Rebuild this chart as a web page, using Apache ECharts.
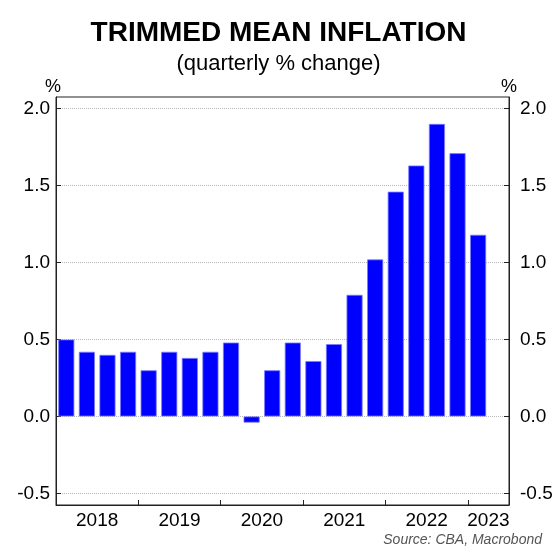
<!DOCTYPE html>
<html><head><meta charset="utf-8">
<script src="https://cdn.jsdelivr.net/npm/echarts@6/dist/echarts.min.js"></script>
<style>html,body{margin:0;padding:0;background:#fff}#c{width:557px;height:556px}</style>
</head><body><div id="c"></div>
<script>
const quarters = ['2018 Q1','2018 Q2','2018 Q3','2018 Q4','2019 Q1','2019 Q2','2019 Q3','2019 Q4',
  '2020 Q1','2020 Q2','2020 Q3','2020 Q4','2021 Q1','2021 Q2','2021 Q3','2021 Q4',
  '2022 Q1','2022 Q2','2022 Q3','2022 Q4','2023 Q1','2023 Q2'];
const trimmedMean = [0.50,0.42,0.40,0.42,0.30,0.42,0.38,0.42,0.48,-0.04,0.30,0.48,0.36,0.47,0.79,1.02,1.46,1.63,1.90,1.71,1.18,null];
const yTicks = [-0.5,0.0,0.5,1.0,1.5,2.0];
const years = ['2018','2019','2020','2021','2022','2023'];

const FONT = "'Liberation Sans', Arial, sans-serif";
// year start / centre positions derived from the quarter list
const yearStart = [], yearCentre = [];
years.forEach(y => {
  const idx = quarters.map((q,i)=>q.startsWith(y)?i:-1).filter(i=>i>=0);
  yearStart.push(idx[0]);
  yearCentre.push((idx[0] + idx[idx.length-1] + 1)/2);
});
const labelAt = {};
yearCentre.forEach((c,i)=>{labelAt[c]=years[i];});

const yMin = -0.575, yMax = 2.075;
const yAxisCommon = {
  type:'value', min:yMin, max:yMax,
  axisLine:{show:true, lineStyle:{color:'#222', width:1}},
  axisTick:{show:true, inside:true, length:5, customValues:yTicks, lineStyle:{color:'#222'}},
  axisLabel:{customValues:yTicks, fontSize:19, color:'#000', fontFamily:FONT,
    formatter:v=>v.toFixed(1)},
  name:'%', nameLocation:'end',
  nameTextStyle:{fontSize:18, color:'#000', fontFamily:FONT}
};

const chart = echarts.init(document.getElementById('c'), null, {renderer:'canvas'});
chart.setOption({
  animation:false,
  backgroundColor:'#fff',
  title:[
    {text:'TRIMMED MEAN INFLATION', left:'center', top:14,
     textStyle:{fontSize:28, fontWeight:'bold', color:'#000', fontFamily:FONT}},
    {text:'(quarterly % change)', left:'center', top:48,
     textStyle:{fontSize:22, fontWeight:'normal', color:'#000', fontFamily:FONT}},
    {text:'Source: CBA, Macrobond', right:10, top:528,
     textStyle:{fontSize:14, fontWeight:'normal', fontStyle:'italic', color:'#555', fontFamily:FONT}}
  ],
  grid:{left:56, right:48, top:97, bottom:51, show:true, borderColor:'#222', borderWidth:1, backgroundColor:'transparent'},
  xAxis:[
    {type:'category', data:quarters, show:false, boundaryGap:true},
    {type:'value', min:0, max:quarters.length, position:'bottom',
     axisLine:{show:true, onZero:false, lineStyle:{color:'#222'}},
     axisTick:{show:true, inside:true, length:5, customValues:yearStart, lineStyle:{color:'#222'}},
     splitLine:{show:false},
     axisLabel:{customValues:yearCentre, margin:6, fontSize:19, color:'#000', fontFamily:FONT,
       formatter:v=>labelAt[v]||''}}
  ],
  yAxis:[
    Object.assign({}, yAxisCommon, {position:'left',
      axisLabel:Object.assign({}, yAxisCommon.axisLabel, {margin:6}),
      nameGap:1, nameTextStyle:Object.assign({}, yAxisCommon.nameTextStyle, {padding:[0,6,0,0]}),
      splitLine:{show:true, lineStyle:{color:'#b8b8b8', type:'dotted', width:1}}}),
    Object.assign({}, yAxisCommon, {position:'right',
      axisLabel:Object.assign({}, yAxisCommon.axisLabel, {margin:11}),
      nameGap:1,
      splitLine:{show:false}})
  ],
  series:[{
    type:'bar', data:trimmedMean, xAxisIndex:0, yAxisIndex:0,
    barCategoryGap:'22%',
    itemStyle:{color:'#0000ff', borderColor:'#7a7aff', borderWidth:0.8}
  }]
});
</script></body></html>
